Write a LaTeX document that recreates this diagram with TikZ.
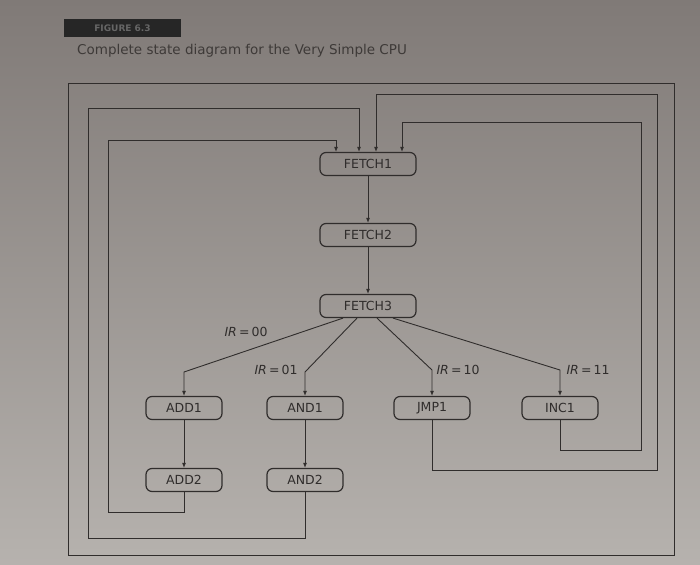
\documentclass[tikz,border=0pt]{standalone}
\usepackage{fontspec}
\setmainfont{DejaVu Sans}
\usetikzlibrary{arrows.meta}
\definecolor{bgtop}{RGB}{128,122,119}
\definecolor{bgbot}{RGB}{182,178,174}
\definecolor{ink}{RGB}{48,45,44}
\definecolor{titleink}{RGB}{62,58,56}
\begin{document}
\begin{tikzpicture}[x=1pt,y=-1pt,
  state/.style={draw=ink, line width=1.2pt, rounded corners=6pt, minimum height=23pt,
    inner sep=0pt, font=\fontsize{12.5}{12.5}\selectfont, text=ink},
  wide/.style={minimum width=96pt},
  narrow/.style={minimum width=76pt},
  link/.style={draw=ink, line width=0.9pt, -{Latex[length=5pt,width=4pt]}},
  cond/.style={font=\fontsize{12.5}{12.5}\selectfont, text=ink},
  frame/.style={draw=ink, line width=1pt}]
\useasboundingbox (0,0) rectangle (700,564);
\shade[top color=bgtop, bottom color=bgbot] (0,0) rectangle (700,564);
% title
\node[fill=black!85, minimum width=117pt, minimum height=18pt, inner sep=0pt,
  font=\fontsize{9}{9}\selectfont\bfseries, text=black!60] (tag) at (122.5,28) {FIGURE 6.3};
\node[anchor=west, inner sep=0pt, font=\fontsize{13.5}{13.5}\selectfont, text=titleink] (title) at (77,51)
  {Complete state diagram for the Very Simple CPU};
% frame
\draw[frame] (68,84) rectangle (674,555);
% states
\node[state,wide] (f1) at (368,164) {FETCH1};
\node[state,wide] (f2) at (368,235) {FETCH2};
\node[state,wide] (f3) at (368,306) {FETCH3};
\node[state,narrow] (add1) at (184,408) {ADD1};
\node[state,narrow] (and1) at (305,408) {AND1};
\node[state,narrow] (jmp1) at (432,408) {JMP1};
\node[state,narrow] (inc1) at (560,408) {INC1};
\node[state,narrow] (add2) at (184,480) {ADD2};
\node[state,narrow] (and2) at (305,480) {AND2};
% bends
\coordinate (b00) at (184,372);
\coordinate (b01) at (305,372);
\coordinate (b10) at (432,370);
\coordinate (b11) at (560,370);
% fetch chain
\draw[link] (f1) -- (f2);
\draw[link] (f2) -- (f3);
% decode
\draw[link] ([xshift=-25pt]f3.south) -- (b00) -- (add1);
\draw[link] ([xshift=-11pt]f3.south) -- (b01) -- (and1);
\draw[link] ([xshift=9pt]f3.south) -- (b10) -- (jmp1);
\draw[link] ([xshift=25pt]f3.south) -- (b11) -- (inc1);
\node[cond] (l00) at (246,332) {\textit{IR}\,=\,00};
\node[cond] (l01) at (276,370) {\textit{IR}\,=\,01};
\node[cond] (l10) at (458,370) {\textit{IR}\,=\,10};
\node[cond] (l11) at (588,370) {\textit{IR}\,=\,11};
% execute chains
\draw[link] (add1) -- (add2);
\draw[link] (and1) -- (and2);
% loops back to FETCH1
\draw[link] (add2.south) -- ++(0,20) -| (108,140) -| ([xshift=-32pt]f1.north);
\draw[link] (and2.south) -- ++(0,46) -| (88,108) -| ([xshift=-9pt]f1.north);
\draw[link] (jmp1.south) -- ++(0,50) -| (657,94) -| ([xshift=8pt]f1.north);
\draw[link] (inc1.south) -- ++(0,30) -| (641,122) -| ([xshift=34pt]f1.north);
\end{tikzpicture}
\end{document}
